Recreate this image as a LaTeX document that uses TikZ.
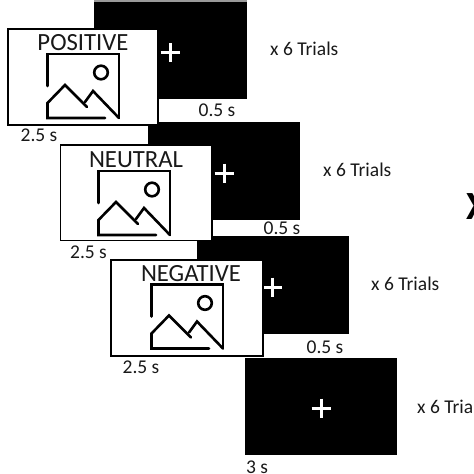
\documentclass[tikz,border=0pt]{standalone}
\usepackage{fontspec}
\setmainfont{Carlito}
\usetikzlibrary{calc}
\newcommand{\fixcross}[1]{\draw[crossline] ($(#1)+(-9.5,0)$) -- ($(#1)+(9.5,0)$) ($(#1)+(0,-9.5)$) -- ($(#1)+(0,9.5)$);}
\tikzset{
  blackscreen/.style={fill=black,draw=none},
  photo/.style={fill=white,draw=black,line width=1.5pt},
  icon/.style={draw=black,line width=2.6pt,line join=miter,line cap=round},
  crossline/.style={draw=white,line width=3pt},
  title/.style={font=\fontsize{24.7}{25}\selectfont,inner sep=0pt,text=black!90},
  lab/.style={font=\fontsize{19.5}{20}\selectfont,inner sep=0pt,text=black!90},
  trials/.style={lab,anchor=west},
  bigx/.style={font=\bfseries\fontsize{40}{40}\selectfont,inner sep=0pt},
  pics/picicon/.style={code={
    \draw[icon] (47.5,86) -- (47.5,54) -- (119,54) -- (119,118);
    \draw[icon] (105,118) -- (47.5,118) -- (47.5,103) -- (65,85) -- (87,107);
    \draw[icon] (85,102) -- (93,91) -- (119,118);
    \draw[icon] (101,72.5) circle (6.8);
  }}
}
\begin{document}
\begin{tikzpicture}[x=1pt,y=-1pt]
\useasboundingbox[fill=white] (0,0) rectangle (474,474);
\begin{scope}
\clip (0,0) rectangle (474,474);
\fill[black!40] (94,0) rectangle (247,2);
\fill[blackscreen] (94,2) rectangle (247,99);
\fill[blackscreen] (148,122) rectangle (300,219.5);
\fill[blackscreen] (197,236) rectangle (349,333.5);
\fill[blackscreen] (245,358) rectangle (397,455);
\fixcross{170,52.5}
\fixcross{224,173}
\fixcross{272.7,287}
\fixcross{321,408}
\draw[photo] (8,29) rectangle (158,125);
\draw[photo] (60.5,145) rectangle (212,240.5);
\draw[photo] (111,260) rectangle (263,356);
\pic at (0,0) {picicon};
\pic at (51,117) {picicon};
\pic at (104,230.5) {picicon};
\node[title] (pos) at (83,42.5) {POSITIVE};
\node[title] (neu) at (136,159.5) {NEUTRAL};
\node[title] (neg) at (191,273.5) {NEGATIVE};
\node[lab] (a1) at (39,135.5) {2.5 s};
\node[lab] (a2) at (88.5,252.5) {2.5 s};
\node[lab] (a3) at (141,367.5) {2.5 s};
\node[lab] (b1) at (217,110.5) {0.5 s};
\node[lab] (b2) at (282,228.5) {0.5 s};
\node[lab] (b3) at (325,347.5) {0.5 s};
\node[lab] (c) at (257,467.5) {3 s};
\node[trials] (t1) at (270,48.5) {x 6 Trials};
\node[trials] (t2) at (323,169.5) {x 6 Trials};
\node[trials] (t3) at (371,283.5) {x 6 Trials};
\node[trials] (t4) at (417,406.5) {x 6 Trials};
\node[bigx,anchor=west] (x) at (466,207) {X};
\end{scope}
\end{tikzpicture}
\end{document}
